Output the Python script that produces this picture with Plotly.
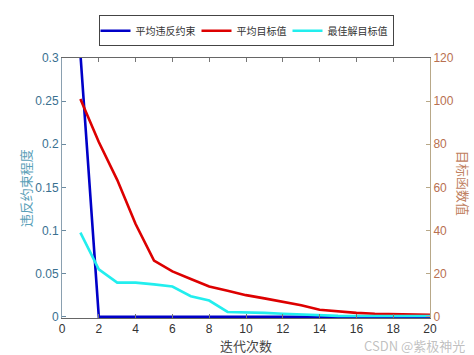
import plotly.graph_objects as go

iters = list(range(1, 21))
avg_violation = [0.305, 0, 0, 0, 0, 0, 0, 0, 0, 0, 0, 0, 0, 0, 0, 0, 0, 0, 0, 0]
avg_objective = [101, 81, 63.5, 43, 26, 21, 17.5, 14, 12, 10, 8.5, 6.8, 5.3, 3.2, 2.4, 1.8, 1.4, 1.2, 1.0, 0.9]
best_objective = [39, 22, 15.8, 15.8, 15, 14, 9.5, 7.5, 2.2, 2.1, 1.8, 1.4, 1.0, 0.6, 0.4, 0.35, 0.3, 0.3, 0.3, 0.3]

x_ticks = list(range(0, 21, 2))
left_ticks = [0, 0.05, 0.1, 0.15, 0.2, 0.25, 0.3]
left_ticktext = ["0", "0.05", "0.1", "0.15", "0.2", "0.25", "0.3"]
right_ticks = [0, 20, 40, 60, 80, 100, 120]

cjk = "Noto Sans CJK SC"
sans = "Liberation Sans, Arial"

fig = go.Figure()
fig.add_trace(go.Scatter(x=iters, y=avg_violation, mode="lines", name="平均违反约束",
                         line=dict(color="#0000C8", width=2.6), yaxis="y"))
fig.add_trace(go.Scatter(x=iters, y=avg_objective, mode="lines", name="平均目标值",
                         line=dict(color="#DD0000", width=2.6), yaxis="y2"))
fig.add_trace(go.Scatter(x=iters, y=best_objective, mode="lines", name="最佳解目标值",
                         line=dict(color="#22EEEE", width=2.6), yaxis="y2"))

fig.update_layout(
    width=474, height=355,
    autosize=False,
    margin=dict(l=62, r=44, t=58, b=37, autoexpand=False),
    paper_bgcolor="white", plot_bgcolor="white",
    showlegend=True,
    legend=dict(orientation="h", x=0.5, xanchor="center", y=1.045, yanchor="bottom",
                bordercolor="#444444", borderwidth=1, bgcolor="white",
                font=dict(family=cjk, size=10, color="#333333"),
                itemwidth=30, tracegroupgap=0, indentation=-4),
    xaxis=dict(range=[0, 20], tickvals=x_ticks, ticks="inside", ticklen=4,
               tickcolor="#777777", showline=True, linecolor="#666666", linewidth=1,
               mirror="ticks", showgrid=False, zeroline=False, automargin=False,
               tickfont=dict(family=sans, size=12, color="#333333")),
    yaxis=dict(range=[-0.0015, 0.3], tickvals=left_ticks, ticktext=left_ticktext,
               ticks="inside", ticklen=4, tickcolor="#6a8aa0",
               showline=True, linecolor="#8aa0b0", linewidth=1,
               showgrid=False, zeroline=False, automargin=False,
               tickfont=dict(family=sans, size=12, color="#3a7090")),
    yaxis2=dict(range=[-0.6, 120], tickvals=right_ticks, overlaying="y", side="right",
                ticks="inside", ticklen=4, tickcolor="#b8a888",
                showline=True, linecolor="#b8a888", linewidth=1,
                showgrid=False, zeroline=False, automargin=False,
                tickfont=dict(family=sans, size=12, color="#b87050")),
)

fig.add_annotation(text="迭代次数", xref="paper", yref="paper", x=0.5, y=-0.06,
                   xanchor="center", yanchor="top", showarrow=False,
                   font=dict(family=cjk, size=13, color="#444444"))
fig.add_annotation(text="违反约束程度", xref="paper", yref="paper", x=-0.1, y=0.5,
                   xanchor="center", yanchor="middle", showarrow=False, textangle=-90,
                   font=dict(family=cjk, size=13, color="#5aa0b8"))
fig.add_annotation(text="目标函数值", xref="paper", yref="paper", x=1.09, y=0.52,
                   xanchor="center", yanchor="middle", showarrow=False, textangle=90,
                   font=dict(family=cjk, size=13, color="#c08060"))
fig.add_annotation(text="CSDN @紫极神光", xref="paper", yref="paper", x=1.1, y=-0.06,
                   xanchor="right", yanchor="top", showarrow=False,
                   font=dict(family=cjk, size=13, color="rgba(150,150,150,0.6)"))

fig.write_html("out.html", config={"responsive": False, "displayModeBar": False},
               post_script="document.body.style.margin='0';document.body.style.overflow='hidden';")
